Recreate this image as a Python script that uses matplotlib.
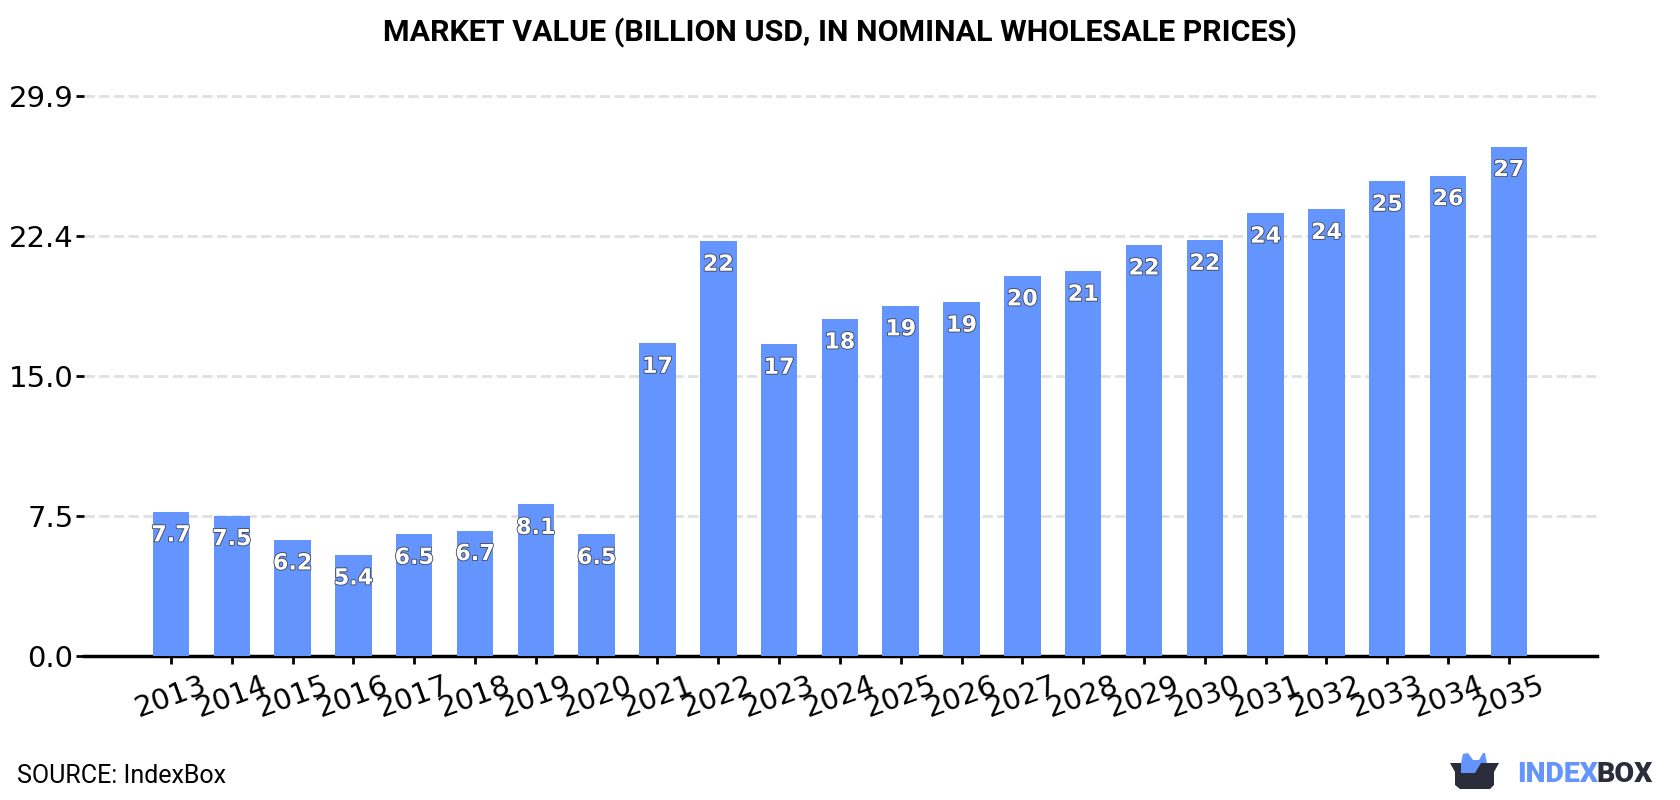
import matplotlib
matplotlib.use("Agg")
import matplotlib.pyplot as plt
import matplotlib.patheffects as pe
from matplotlib.patches import Polygon
from matplotlib.transforms import Affine2D

years = [2013, 2014, 2015, 2016, 2017, 2018, 2019, 2020, 2021, 2022, 2023, 2024,
         2025, 2026, 2027, 2028, 2029, 2030, 2031, 2032, 2033, 2034, 2035]
market_value = [7.7, 7.5, 6.2, 5.4, 6.5, 6.7, 8.1, 6.5, 16.7, 22.15, 16.65, 18.0,
                18.7, 18.9, 20.3, 20.55, 21.95, 22.2, 23.65, 23.85, 25.35, 25.65, 27.2]
y_ticks = [0.0, 7.475, 14.95, 22.425, 29.9]
y_tick_labels = ["0.0", "7.5", "15.0", "22.4", "29.9"]

BLUE = "#6495ff"
DARK = "#2b2d3a"
W, H = 1680, 800


def fmt(v):
    return f"{v:.1f}" if v < 10 else f"{v:.0f}"


fig = plt.figure(figsize=(W / 100, H / 100), dpi=100, facecolor="white")
ax = fig.add_axes([84 / W, 1 - 656 / H, (1597 - 84) / W, (656 - 96) / H])

ax.bar(years, market_value, width=0.6, color=BLUE, zorder=3)
ax.set_xlim(2013 - 1.43, 2013 + 23.45)
ax.set_ylim(0, 29.9)

ax.set_yticks(y_ticks, y_tick_labels)
ax.set_xticks(years, [str(y) for y in years], rotation=20)
ax.tick_params(axis="y", labelsize=21, length=6, width=2, pad=1.5)
ax.tick_params(axis="x", labelsize=21, length=6, width=2, pad=5)
ax.grid(axis="y", color="#e0e0e0", linewidth=2, linestyle=(0, (3.7, 1.6)), zorder=1, clip_on=False)
for name in ("top", "right", "left"):
    ax.spines[name].set_visible(False)
ax.spines["bottom"].set_linewidth(2.5)

# Value labels sit just inside the top of each bar
stroke = [pe.withStroke(linewidth=1.2, foreground="#3f4450")]
for year, value in zip(years, market_value):
    ax.annotate(fmt(value), (year, value), xytext=(0, -17), textcoords="offset points",
                ha="center", va="center", fontsize=16, fontweight="bold",
                family="DejaVu Sans", color="white", path_effects=stroke, zorder=4)

fig.text(0.5, 1 - 32.5 / H, "MARKET VALUE (BILLION USD, IN NOMINAL WHOLESALE PRICES)",
         ha="center", va="center", family="Roboto", fontweight="bold", fontsize=21.9, color="black")
fig.text(17 / W, 1 - 776 / H, "SOURCE: IndexBox", ha="left", va="center",
         family="Roboto", fontsize=18, color="black")

# Brand mark, laid out in pixel coordinates measured from the top-left corner
px = Affine2D().scale(1 / W, -1 / H).translate(0, 1) + fig.transFigure
ears = [(1461, 763), (1463, 754), (1468, 753), (1473, 760), (1479, 760), (1483, 753),
        (1485, 753), (1487, 763), (1480, 773), (1461, 773)]
box = [(1450, 763), (1461, 763), (1461, 773), (1475, 773), (1481, 763), (1499, 763),
       (1494, 772), (1494, 785), (1490, 789), (1460, 789), (1455, 785), (1455, 772)]
fig.add_artist(Polygon(ears, closed=True, facecolor=BLUE, edgecolor="none", transform=px))
fig.add_artist(Polygon(box, closed=True, facecolor=DARK, edgecolor="none", transform=px))

fig.text(1517 / W, 1 - 774 / H, "INDEX", ha="left", va="center",
         family="Roboto", fontweight="black", fontsize=20.5, color=BLUE)
fig.text(1597 / W, 1 - 774 / H, "BOX", ha="left", va="center",
         family="Roboto", fontweight="black", fontsize=20.5, color=DARK)

fig.savefig("out.png", dpi=100, facecolor="white")
